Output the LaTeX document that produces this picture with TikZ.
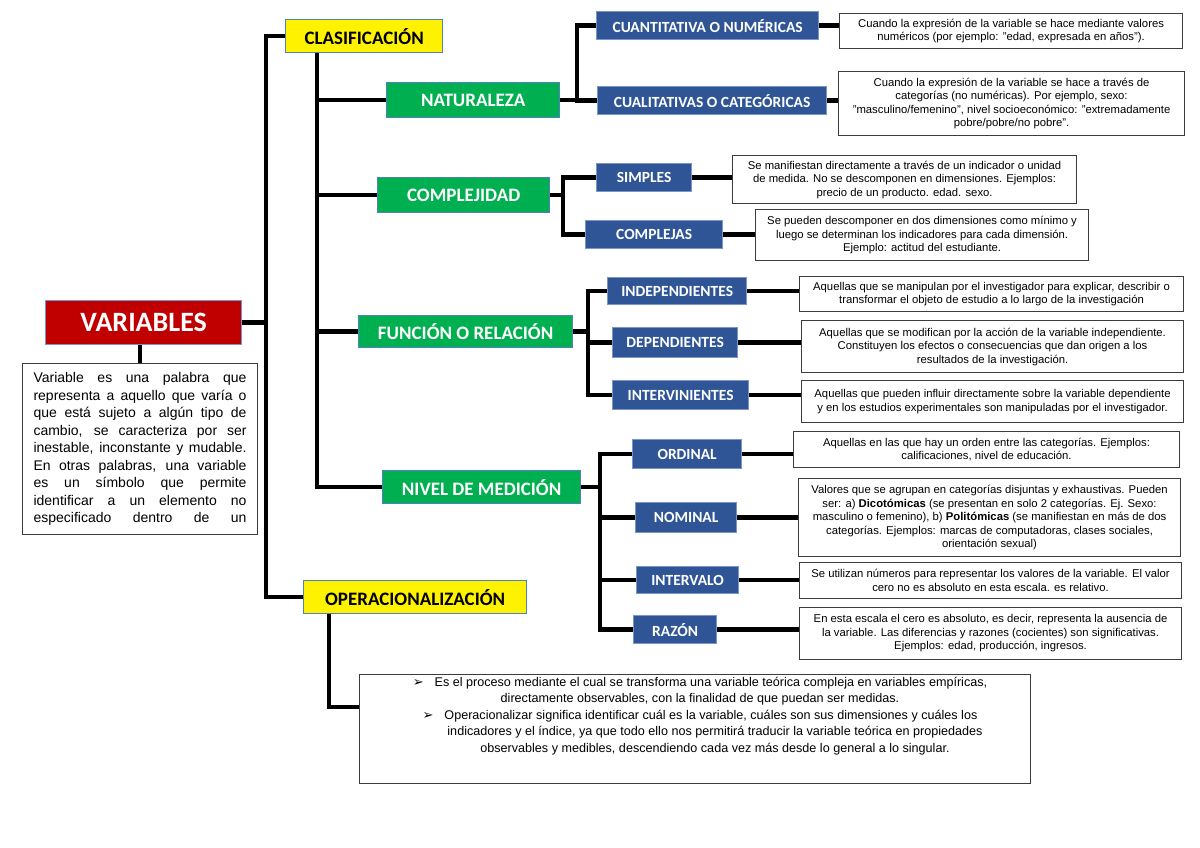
\documentclass[tikz,border=0pt]{standalone}
\usepackage{fontspec}
\setmainfont{Liberation Sans}
\newfontfamily\calib{Carlito}
\newfontfamily\djv{DejaVu Sans}
\pgfdeclarelayer{bg}
\pgfdeclarelayer{lines}
\pgfsetlayers{bg,lines,main}
\definecolor{bfill}{RGB}{47,85,151}
\definecolor{bedge}{RGB}{120,150,200}
\definecolor{gfill}{RGB}{0,176,80}
\definecolor{gedge}{RGB}{79,129,189}
\definecolor{rfill}{RGB}{192,0,0}
\definecolor{dedge}{RGB}{60,60,60}
\tikzset{
  conn/.style={line width=4.5pt, black, line cap=rect, line join=miter},
  tbox/.style={draw, line width=1.3pt, inner sep=0pt, anchor=north west, align=center},
  bluebox/.style={tbox, fill=bfill, draw=bedge, text=white, font=\calib\bfseries\fontsize{15.5}{18}\selectfont},
  greenbox/.style={tbox, fill=gfill, draw=gedge, text=white, font=\calib\bfseries\fontsize{19}{22}\selectfont},
  yellowbox/.style={tbox, fill=yellow, draw=gedge, text=black, font=\calib\bfseries\fontsize{19}{22}\selectfont},
  redbox/.style={tbox, fill=rfill, draw=bedge, text=white, font=\calib\bfseries\fontsize{28}{30}\selectfont},
  descbox/.style={tbox, draw=dedge, line width=1.1pt, fill=white, font=\fontsize{11.3}{13.5}\selectfont},
}
\newcommand{\bul}{{\djv\fontsize{13}{14}\selectfont ➢}}
\begin{document}
\begin{tikzpicture}[x=1pt,y=-1pt]
\begin{pgfonlayer}{bg}
\fill[white] (0,0) rectangle (1200,848);
\end{pgfonlayer}
\useasboundingbox (0,0) rectangle (1200,848);

% left
\node[redbox, minimum width=196pt, minimum height=44pt] (vars) at (45,300) {VARIABLES};
\node[tbox, draw=dedge, line width=1.1pt, fill=white, align=justify, text width=213pt, inner xsep=11pt,
      minimum width=235pt, minimum height=171pt, font=\fontsize{14}{17.5}\selectfont] (vdesc) at (22,363)
  {\tolerance=10000 \hyphenpenalty=10000 \exhyphenpenalty=10000
   Variable es una palabra que\linebreak
   representa a aquello que varía o\linebreak
   que está sujeto a algún tipo de\linebreak
   cambio, se caracteriza por ser\linebreak
   inestable, inconstante y mudable.\linebreak
   En otras palabras, una variable\linebreak
   es un símbolo que permite\linebreak
   identificar a un elemento no\linebreak
   especificado\hfill{} dentro\hfill{} de\hfill{} un};

% level 1
\node[yellowbox, minimum width=157pt, minimum height=33pt] (clas) at (285,19) {CLASIFICACIÓN};
\node[yellowbox, minimum width=223pt, minimum height=33pt] (oper) at (303,580) {OPERACIONALIZACIÓN};

% level 2
\node[greenbox, minimum width=173pt, minimum height=35pt] (nat) at (386,82) {NATURALEZA};
\node[greenbox, minimum width=172pt, minimum height=35pt] (compj) at (377,177) {COMPLEJIDAD};
\node[greenbox, minimum width=214pt, minimum height=32pt] (func) at (358,315) {FUNCIÓN O RELACIÓN};
\node[greenbox, minimum width=198pt, minimum height=33pt] (niv) at (382,470) {NIVEL DE MEDICIÓN};

% level 3
\node[bluebox, minimum width=222pt, minimum height=28pt] (cuan) at (596,11) {CUANTITATIVA O NUMÉRICAS};
\node[bluebox, minimum width=229pt, minimum height=28pt] (cual) at (597,86) {CUALITATIVAS O CATEGÓRICAS};
\node[bluebox, minimum width=95pt, minimum height=28pt] (simp) at (596,163) {SIMPLES};
\node[bluebox, minimum width=137pt, minimum height=28pt] (comj) at (585,220) {COMPLEJAS};
\node[bluebox, minimum width=139pt, minimum height=27pt] (indep) at (607,277) {INDEPENDIENTES};
\node[bluebox, minimum width=125pt, minimum height=30pt] (dep) at (612,327) {DEPENDIENTES};
\node[bluebox, minimum width=136pt, minimum height=29pt] (interv) at (612,380) {INTERVINIENTES};
\node[bluebox, minimum width=109pt, minimum height=29pt] (ord) at (632,439) {ORDINAL};
\node[bluebox, minimum width=101pt, minimum height=30pt] (nom) at (635,502) {NOMINAL};
\node[bluebox, minimum width=102pt, minimum height=27pt] (intv) at (636,566) {INTERVALO};
\node[bluebox, minimum width=83pt, minimum height=28pt] (raz) at (633,615) {RAZÓN};

% descriptions
\node[descbox, minimum width=343pt, minimum height=35pt] (d1) at (839,13)
  {Cuando la expresión de la variable se hace mediante valores\\numéricos (por ejemplo: "edad, expresada en años").};
\node[descbox, minimum width=346pt, minimum height=64pt] (d2) at (838,71)
  {Cuando la expresión de la variable se hace a través de\\categorías (no numéricas). Por ejemplo, sexo:\\"masculino/femenino", nivel socioeconómico: "extremadamente\\pobre/pobre/no pobre".};
\node[descbox, minimum width=344pt, minimum height=48pt] (d3) at (732,155)
  {Se manifiestan directamente a través de un indicador o unidad\\de medida. No se descomponen en dimensiones. Ejemplos:\\precio de un producto. edad. sexo.};
\node[descbox, minimum width=333pt, minimum height=51pt] (d4) at (755,209)
  {Se pueden descomponer en dos dimensiones como mínimo y\\luego se determinan los indicadores para cada dimensión.\\Ejemplo: actitud del estudiante.};
\node[descbox, minimum width=384pt, minimum height=35pt] (d5) at (799,276)
  {Aquellas que se manipulan por el investigador para explicar, describir o\\transformar el objeto de estudio a lo largo de la investigación};
\node[descbox, minimum width=382pt, minimum height=52pt] (d6) at (801,320)
  {Aquellas que se modifican por la acción de la variable independiente.\\Constituyen los efectos o consecuencias que dan origen a los\\resultados de la investigación.};
\node[descbox, minimum width=382pt, minimum height=42pt] (d7) at (801,380)
  {Aquellas que pueden influir directamente sobre la variable dependiente\\y en los estudios experimentales son manipuladas por el investigador.};
\node[descbox, minimum width=386pt, minimum height=36pt] (d8) at (793,431)
  {Aquellas en las que hay un orden entre las categorías. Ejemplos:\\calificaciones, nivel de educación.};
\node[descbox, minimum width=382pt, minimum height=78pt] (d9) at (798,478)
  {Valores que se agrupan en categorías disjuntas y exhaustivas. Pueden\\ser: a) \textbf{Dicotómicas} (se presentan en solo 2 categorías. Ej. Sexo:\\masculino o femenino), b) \textbf{Politómicas} (se manifiestan en más de dos\\categorías. Ejemplos: marcas de computadoras, clases sociales,\\orientación sexual)};
\node[descbox, minimum width=382pt, minimum height=36pt] (d10) at (799,562)
  {Se utilizan números para representar los valores de la variable. El valor\\cero no es absoluto en esta escala. es relativo.};
\node[descbox, minimum width=382pt, minimum height=52pt] (d11) at (799,607)
  {En esta escala el cero es absoluto, es decir, representa la ausencia de\\la variable. Las diferencias y razones (cocientes) son significativas.\\Ejemplos: edad, producción, ingresos.};

% bottom box
\node[tbox, draw=dedge, line width=1.1pt, fill=white, minimum width=671pt, minimum height=109pt] (bot) at (359,674) {};
\node[anchor=north, inner sep=0pt, align=center, font=\fontsize{12.6}{16.5}\selectfont] (bottxt) at (700,677)
  {\bul\hspace{11pt}Es el proceso mediante el cual se transforma una variable teórica compleja en variables empíricas,\\
   directamente observables, con la finalidad de que puedan ser medidas.\\
   \bul\hspace{11pt}Operacionalizar significa identificar cuál es la variable, cuáles son sus dimensiones y cuáles los\\
   \hspace{30pt}indicadores y el índice, ya que todo ello nos permitirá traducir la variable teórica en propiedades\\
   \hspace{30pt}observables y medibles, descendiendo cada vez más desde lo general a lo singular.};

% connectors
\coordinate (T) at (266,0);
\coordinate (C) at (317,0);
\coordinate (N) at (577,0);
\coordinate (K) at (563,0);
\coordinate (F) at (588,0);
\coordinate (M) at (600,0);
\coordinate (O) at (329,707);
\begin{pgfonlayer}{lines}
\draw[conn] (clas.west) -- (clas.west -| T) -- (oper.west -| T) -- (oper.west);
\draw[conn] (vars.east) -- (vars.east -| T);
\draw[conn] (vars.south -| vdesc.north) -- (vdesc.north);
\draw[conn] (clas.south -| C) -- (niv.west -| C) -- (niv.west);
\draw[conn] (nat.west) -- (nat.west -| C);
\draw[conn] (compj.west) -- (compj.west -| C);
\draw[conn] (func.west) -- (func.west -| C);
\draw[conn] (nat.east) -- (nat.east -| N);
\draw[conn] (cuan.west) -- (cuan.west -| N) -- (cual.west -| N) -- (cual.west);
\draw[conn] (compj.east) -- (compj.east -| K);
\draw[conn] (simp.west) -- (simp.west -| K) -- (comj.west -| K) -- (comj.west);
\draw[conn] (func.east) -- (func.east -| F);
\draw[conn] (indep.west) -- (indep.west -| F) -- (interv.west -| F) -- (interv.west);
\draw[conn] (dep.west) -- (dep.west -| F);
\draw[conn] (niv.east) -- (niv.east -| M);
\draw[conn] (ord.west) -- (ord.west -| M) -- (raz.west -| M) -- (raz.west);
\draw[conn] (nom.west) -- (nom.west -| M);
\draw[conn] (intv.west) -- (intv.west -| M);
\draw[conn] (cuan.east) -- (cuan.east -| d1.west);
\draw[conn] (cual.east) -- (cual.east -| d2.west);
\draw[conn] (simp.east) -- (simp.east -| d3.west);
\draw[conn] (comj.east) -- (comj.east -| d4.west);
\draw[conn] (indep.east) -- (indep.east -| d5.west);
\draw[conn] (dep.east) -- (dep.east -| d6.west);
\draw[conn] (interv.east) -- (interv.east -| d7.west);
\draw[conn] (ord.east) -- (ord.east -| d8.west);
\draw[conn] (nom.east) -- (nom.east -| d9.west);
\draw[conn] (intv.east) -- (intv.east -| d10.west);
\draw[conn] (raz.east) -- (raz.east -| d11.west);
\draw[conn] (oper.south -| O) -- (O) -- (O -| bot.west);
\end{pgfonlayer}
\end{tikzpicture}
\end{document}
